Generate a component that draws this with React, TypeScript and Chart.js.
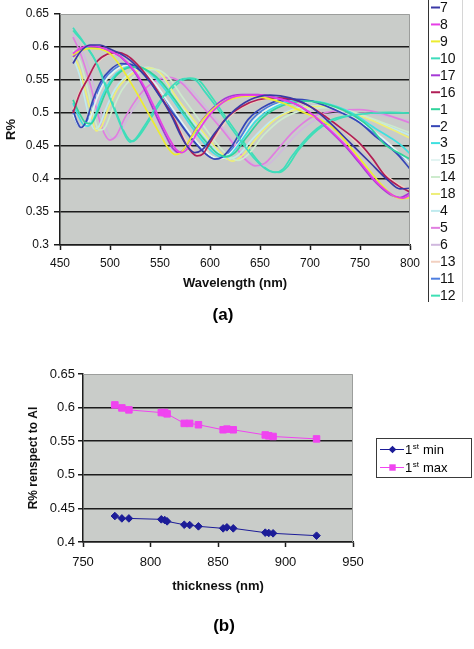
import { useEffect, useRef } from "react";
import { Chart, registerables } from "chart.js";

Chart.register(...registerables);
Chart.defaults.font.family = "'Liberation Sans', Arial, sans-serif";
Chart.defaults.color = "#000";

type P = [number, number];

// Reflectance spectra R(λ), [wavelength nm, R]
const s7: P[] = [[463,.575],[470,.592],[480,.603],[490,.603],[500,.597],[510,.590],[520,.580],[530,.565],[540,.547],[547,.532],[553,.518],[562,.494],[570,.468],[578,.448],[585,.440],[592,.444],[605,.470],[620,.498],[640,.520],[660,.527],[680,.523],[700,.510],[720,.485],[740,.455],[760,.425],[778,.398],[790,.385],[800,.386]];
const s8: P[] = [[463,.590],[470,.598],[480,.602],[490,.600],[500,.594],[512,.584],[525,.563],[535,.538],[543,.513],[551,.486],[559,.462],[566,.445],[572,.440],[578,.447],[588,.472],[600,.498],[618,.521],[636,.527],[652,.527],[668,.522],[688,.512],[703,.497],[718,.477],[738,.447],[752,.422],[765,.398],[775,.384],[785,.374],[793,.371],[800,.376]];
const s9: P[] = [[463,.588],[470,.594],[480,.598],[490,.597],[500,.590],[510,.572],[520,.548],[530,.522],[540,.495],[550,.468],[558,.447],[565,.437],[571,.440],[580,.460],[592,.488],[608,.512],[625,.523],[640,.526],[655,.523],[675,.514],[695,.500],[710,.490],[725,.475],[740,.449],[755,.421],[770,.394],[782,.376],[792,.370],[800,.372]];
const s10: P[] = [[463,.629],[470,.615],[478,.597],[485,.580],[492,.555],[498,.530],[505,.503],[511,.480],[516,.463],[520,.456],[525,.460],[535,.482],[550,.518],[565,.545],[575,.552],[585,.550],[595,.532],[607,.508],[620,.480],[632,.455],[645,.430],[655,.416],[665,.410],[673,.415],[682,.435],[702,.470],[722,.490],[749,.498],[775,.500],[800,.500]];
const s17: P[] = [[463,.585],[470,.595],[478,.601],[488,.600],[498,.595],[510,.586],[523,.565],[533,.540],[540,.517],[548,.490],[556,.465],[563,.446],[569,.440],[575,.447],[585,.474],[598,.500],[615,.522],[632,.528],[648,.528],[665,.523],[685,.514],[700,.500],[715,.480],[735,.450],[749,.425],[762,.401],[772,.386],[782,.375],[790,.372],[800,.379]];
const s16: P[] = [[463,.500],[470,.530],[477,.550],[487,.578],[497,.589],[507,.592],[517,.587],[527,.574],[537,.556],[547,.535],[556,.512],[565,.488],[575,.455],[582,.440],[587,.435],[593,.438],[600,.455],[615,.490],[632,.510],[648,.520],[665,.523],[682,.521],[700,.510],[715,.495],[732,.476],[749,.455],[762,.432],[775,.405],[788,.390],[800,.380]];
const s1: P[] = [[463,.520],[470,.498],[476,.485],[481,.484],[488,.503],[496,.532],[506,.556],[517,.568],[528,.570],[540,.562],[552,.546],[564,.522],[578,.492],[594,.460],[608,.438],[616,.434],[625,.440],[636,.462],[652,.492],[672,.511],[695,.518],[720,.512],[745,.495],[762,.475],[775,.452],[788,.440],[800,.430]];
const s2: P[] = [[463,.505],[467,.487],[471,.478],[476,.487],[483,.520],[491,.548],[500,.565],[511,.575],[520,.574],[531,.563],[540,.548],[550,.525],[565,.495],[582,.460],[598,.435],[605,.430],[612,.433],[622,.450],[638,.490],[658,.513],[680,.521],[702,.518],[732,.500],[750,.485],[765,.465],[778,.450],[789,.435],[800,.415]];
const s3: P[] = [[463,.515],[468,.497],[473,.483],[478,.480],[484,.492],[492,.525],[502,.552],[513,.567],[524,.572],[535,.566],[546,.552],[558,.530],[572,.500],[588,.466],[603,.440],[612,.433],[620,.436],[630,.455],[646,.488],[666,.510],[690,.519],[715,.515],[742,.500],[765,.477],[780,.463],[792,.450],[800,.438]];
const s15: P[] = [[463,.498],[468,.482],[474,.479],[480,.492],[487,.523],[495,.548],[505,.564],[516,.572],[526,.570],[537,.558],[547,.541],[557,.519],[572,.486],[588,.454],[602,.434],[610,.431],[618,.436],[629,.455],[644,.489],[664,.511],[688,.518],[711,.514],[738,.497],[758,.479],[773,.461],[788,.441],[800,.424]];
const s14: P[] = [[463,.595],[470,.578],[477,.540],[484,.495],[489,.474],[494,.476],[502,.503],[512,.535],[522,.553],[534,.565],[546,.566],[558,.555],[572,.525],[590,.488],[606,.455],[618,.436],[628,.428],[638,.437],[654,.467],[672,.491],[692,.504],[718,.508],[742,.502],[768,.488],[788,.477],[800,.470]];
const s18: P[] = [[463,.590],[470,.565],[476,.530],[481,.500],[486,.473],[491,.478],[498,.505],[507,.535],[516,.552],[528,.565],[540,.568],[552,.558],[565,.527],[585,.487],[600,.458],[612,.438],[622,.427],[632,.435],[648,.465],[665,.490],[685,.505],[710,.510],[732,.505],[760,.490],[782,.475],[800,.462]];
const s4: P[] = [[463,.585],[470,.555],[475,.520],[479,.495],[484,.476],[489,.480],[496,.507],[505,.536],[514,.553],[526,.566],[538,.569],[550,.560],[562,.533],[580,.493],[596,.462],[608,.441],[618,.430],[628,.436],[644,.463],[662,.489],[682,.505],[706,.511],[728,.507],[755,.494],[778,.480],[800,.466]];
const s5: P[] = [[463,.615],[470,.592],[480,.545],[488,.497],[494,.470],[500,.459],[506,.465],[515,.493],[530,.528],[545,.548],[560,.554],[572,.545],[585,.523],[598,.500],[612,.475],[625,.450],[635,.430],[645,.420],[655,.424],[665,.440],[682,.470],[702,.494],[725,.503],[749,.505],[775,.498],[800,.485]];
const s6: P[] = [[463,.620],[470,.603],[480,.562],[489,.512],[496,.477],[502,.462],[508,.464],[517,.490],[532,.525],[548,.546],[563,.552],[576,.543],[589,.522],[602,.498],[616,.472],[629,.446],[639,.428],[649,.419],[659,.423],[669,.438],[686,.467],[706,.490],[730,.500],[755,.500],[780,.494],[800,.488]];
const s13: P[] = [[463,.505],[470,.533],[480,.560],[490,.580],[500,.589],[510,.590],[520,.583],[530,.570],[540,.552],[550,.530],[560,.503],[570,.474],[580,.450],[588,.437],[595,.438],[605,.462],[620,.495],[638,.513],[655,.521],[672,.522],[690,.517],[708,.503],[725,.485],[742,.462],[758,.438],[772,.412],[786,.394],[800,.383]];
const s11: P[] = [[463,.500],[467,.484],[472,.479],[478,.490],[485,.522],[493,.548],[503,.565],[514,.573],[524,.571],[535,.559],[545,.542],[555,.520],[570,.487],[586,.455],[600,.434],[608,.431],[616,.436],[627,.455],[642,.490],[662,.512],[685,.519],[708,.515],[735,.498],[755,.480],[770,.462],[785,.442],[800,.425]];
const s12: P[] = [[463,.625],[470,.613],[478,.598],[486,.578],[494,.550],[501,.522],[508,.494],[514,.472],[519,.460],[523,.457],[529,.465],[540,.490],[555,.525],[570,.547],[580,.553],[590,.548],[600,.528],[612,.502],[625,.474],[638,.447],[650,.424],[660,.412],[669,.410],[677,.418],[688,.443],[708,.475],[730,.492],[755,.499],[780,.501],[800,.500]];

const sampleLabels = ["7", "8", "9", "10", "17", "16", "1", "2", "3", "15", "14", "18", "4", "5", "6", "13", "11", "12"];
const sampleSpectra = [s7, s8, s9, s10, s17, s16, s1, s2, s3, s15, s14, s18, s4, s5, s6, s13, s11, s12];
const sampleColors = ["#3a38a6", "#e63ee6", "#ecec30", "#3edcbc", "#a63ad6", "#b01e56", "#30d49c", "#3646b6", "#3ee0e0", "#e2f4f2", "#cdebcd", "#eeee78", "#bfeaee", "#e07ee0", "#d0b8de", "#f2d0c0", "#4e7ee0", "#3ee0b4"];

const wlTicks = [450, 800, 50];
const rTicksA = [0.3, 0.65, 0.05];

// First extrema of R versus film thickness
const thickness = [773.6, 778.8, 784, 808, 810.5, 812.3, 825, 829, 835.5, 853.8, 856.6, 861.3, 885, 887.6, 890.8, 923];
const firstMin = [0.4386, 0.4351, 0.4351, 0.4337, 0.4327, 0.4307, 0.4257, 0.4252, 0.4233, 0.4203, 0.4218, 0.4203, 0.4139, 0.4134, 0.4129, 0.4094];
const firstMax = [0.604, 0.5995, 0.5966, 0.5926, 0.5926, 0.5907, 0.5765, 0.5765, 0.5745, 0.567, 0.568, 0.567, 0.5593, 0.558, 0.557, 0.5534];
const thkTicks = [750, 950, 50];
const rTicksB = [0.4, 0.65, 0.05];

const PLOT_BG = "#c9ccc9";
const GRID = "#1c1c1c";

const fmtR = (v: any) => String(Number(Number(v).toFixed(2)));

const plotFrame = {
  id: "plotFrame",
  beforeDraw(chart: any) {
    const { ctx, chartArea: a } = chart;
    ctx.save();
    ctx.fillStyle = PLOT_BG;
    ctx.fillRect(a.left, a.top, a.right - a.left, a.bottom - a.top);
    ctx.restore();
  },
  afterDraw(chart: any) {
    const { ctx, chartArea: a } = chart;
    ctx.save();
    ctx.strokeStyle = "#9c9e9c";
    ctx.lineWidth = 1;
    ctx.beginPath();
    ctx.moveTo(a.left, a.top + 0.5);
    ctx.lineTo(a.right - 0.5, a.top + 0.5);
    ctx.lineTo(a.right - 0.5, a.bottom);
    ctx.stroke();
    ctx.restore();
  },
};

function caption(text: string, x: number, y: number) {
  return {
    id: "caption",
    afterDraw(chart: any) {
      const ctx = chart.ctx;
      ctx.save();
      ctx.font = "bold 17px 'Liberation Sans', Arial, sans-serif";
      ctx.fillStyle = "#000";
      ctx.textAlign = "center";
      ctx.textBaseline = "middle";
      ctx.fillText(text, x, y);
      ctx.restore();
    },
  };
}

const spectraLegend = {
  id: "spectraLegend",
  afterDraw(chart: any) {
    const ctx = chart.ctx;
    ctx.save();
    ctx.lineWidth = 1;
    ctx.strokeStyle = "#333";
    ctx.beginPath();
    ctx.moveTo(428.5, 0);
    ctx.lineTo(428.5, 302);
    ctx.stroke();
    ctx.strokeStyle = "#d6d6d6";
    ctx.beginPath();
    ctx.moveTo(462.5, 0);
    ctx.lineTo(462.5, 302);
    ctx.stroke();
    ctx.font = "14px 'Liberation Sans', Arial, sans-serif";
    ctx.textBaseline = "middle";
    chart.data.datasets.forEach((ds: any, i: number) => {
      const y = 7.5 + i * 16.95;
      ctx.strokeStyle = ds.borderColor;
      ctx.lineWidth = 2;
      ctx.beginPath();
      ctx.moveTo(431, y);
      ctx.lineTo(440, y);
      ctx.stroke();
      ctx.fillStyle = "#111";
      ctx.fillText(ds.label, 440, y + 0.5);
    });
    ctx.restore();
  },
};

function drawMarker(ctx: any, style: string, x: number, y: number, color: string) {
  ctx.fillStyle = color;
  ctx.beginPath();
  if (style === "rect") {
    ctx.rect(x - 3.2, y - 3.2, 6.4, 6.4);
  } else {
    ctx.moveTo(x, y - 3.8);
    ctx.lineTo(x + 3.8, y);
    ctx.lineTo(x, y + 3.8);
    ctx.lineTo(x - 3.8, y);
    ctx.closePath();
  }
  ctx.fill();
}

const extremaLegend = {
  id: "extremaLegend",
  afterDraw(chart: any) {
    const ctx = chart.ctx;
    ctx.save();
    ctx.fillStyle = "#fff";
    ctx.fillRect(376, 98, 96, 40);
    ctx.strokeStyle = "#3a3a3a";
    ctx.lineWidth = 1;
    ctx.strokeRect(376.5, 98.5, 95, 39);
    chart.data.datasets.forEach((ds: any, i: number) => {
      const y = 109.5 + i * 18;
      ctx.strokeStyle = ds.borderColor;
      ctx.lineWidth = 1;
      ctx.beginPath();
      ctx.moveTo(380, y);
      ctx.lineTo(404, y);
      ctx.stroke();
      drawMarker(ctx, ds.pointStyle, 392.5, y, ds.borderColor);
      const [num, sup, rest] = ds.legendParts;
      ctx.fillStyle = "#000";
      ctx.textBaseline = "middle";
      ctx.font = "13px 'Liberation Sans', Arial, sans-serif";
      ctx.fillText(num, 405, y + 1);
      let x = 405 + ctx.measureText(num).width;
      ctx.font = "8px 'Liberation Sans', Arial, sans-serif";
      ctx.fillText(sup, x + 0.5, y - 3);
      x += ctx.measureText(sup).width + 4.5;
      ctx.font = "13px 'Liberation Sans', Arial, sans-serif";
      ctx.fillText(rest, x, y + 1);
    });
    ctx.restore();
  },
};

function yGridColor(top: number) {
  return (c: any) => (c.tick && Math.abs(c.tick.value - top) < 1e-6 ? "rgba(0,0,0,0)" : GRID);
}

export default function App() {
  const refA = useRef<HTMLCanvasElement>(null);
  const refB = useRef<HTMLCanvasElement>(null);

  useEffect(() => {
    const chartA = new Chart(refA.current as HTMLCanvasElement, {
      type: "line",
      data: {
        datasets: sampleSpectra.map((pts, i) => ({
          label: sampleLabels[i],
          data: pts.map(([x, y]) => ({ x, y })),
          borderColor: sampleColors[i],
          backgroundColor: sampleColors[i],
          borderWidth: 1.7,
          pointRadius: 0,
          cubicInterpolationMode: "monotone" as const,
          fill: false,
        })),
      },
      options: {
        animation: false,
        responsive: false,
        maintainAspectRatio: false,
        events: [],
        layout: { padding: { left: 0, top: 14, right: 64, bottom: 39 } },
        plugins: { legend: { display: false }, tooltip: { enabled: false } },
        scales: {
          x: {
            type: "linear",
            min: wlTicks[0],
            max: wlTicks[1],
            ticks: { stepSize: wlTicks[2], font: { size: 12 }, color: "#111", padding: 6 },
            grid: { drawOnChartArea: false, tickLength: 5, tickColor: GRID, tickWidth: 1.5 },
            border: { color: GRID, width: 1.5 },
            title: { display: true, text: "Wavelength (nm)", font: { size: 13, weight: "bold" }, color: "#111", padding: 0 },
            afterFit: (s: any) => { s.height = 46; },
          },
          y: {
            type: "linear",
            min: rTicksA[0],
            max: rTicksA[1],
            ticks: { stepSize: rTicksA[2], font: { size: 12 }, color: "#111", padding: 5, callback: fmtR },
            grid: { color: yGridColor(rTicksA[1]), lineWidth: 1.5, tickLength: 6, tickColor: GRID, tickWidth: 1.5 },
            border: { color: GRID, width: 1.5 },
            title: { display: true, text: "R%", font: { size: 13, weight: "bold" }, color: "#111", padding: { top: 4, bottom: 0 } },
            afterFit: (s: any) => { s.width = 60; },
          },
        },
      } as any,
      plugins: [plotFrame, spectraLegend, caption("(a)", 223, 315)],
    });

    const chartB = new Chart(refB.current as HTMLCanvasElement, {
      type: "line",
      data: {
        datasets: [
          {
            label: "1st min",
            legendParts: ["1", "st", "min"],
            data: thickness.map((x, i) => ({ x, y: firstMin[i] })),
            borderColor: "#1c1c98",
            backgroundColor: "#1c1c98",
            pointBackgroundColor: "#1c1c98",
            pointBorderColor: "#1c1c98",
            pointStyle: "rectRot",
            pointRadius: 3.8,
            borderWidth: 1,
            tension: 0,
          },
          {
            label: "1st max",
            legendParts: ["1", "st", "max"],
            data: thickness.map((x, i) => ({ x, y: firstMax[i] })),
            borderColor: "#f044f0",
            backgroundColor: "#f044f0",
            pointBackgroundColor: "#f044f0",
            pointBorderColor: "#f044f0",
            pointStyle: "rect",
            pointRadius: 4.6,
            borderWidth: 1,
            tension: 0,
          },
        ] as any,
      },
      options: {
        animation: false,
        responsive: false,
        maintainAspectRatio: false,
        events: [],
        layout: { padding: { left: 0, top: 34, right: 121, bottom: 55 } },
        plugins: { legend: { display: false }, tooltip: { enabled: false } },
        scales: {
          x: {
            type: "linear",
            min: thkTicks[0],
            max: thkTicks[1],
            ticks: { stepSize: thkTicks[2], font: { size: 13 }, color: "#111", padding: 8 },
            grid: { drawOnChartArea: false, tickLength: 5, tickColor: GRID, tickWidth: 1.5 },
            border: { color: GRID, width: 1.5 },
            title: { display: true, text: "thickness (nm)", font: { size: 13, weight: "bold" }, color: "#111", padding: 0 },
            afterFit: (s: any) => { s.height = 52; },
          },
          y: {
            type: "linear",
            min: rTicksB[0],
            max: rTicksB[1],
            ticks: { stepSize: rTicksB[2], font: { size: 13 }, color: "#111", padding: 3, callback: fmtR },
            grid: { color: yGridColor(rTicksB[1]), lineWidth: 1.5, tickLength: 5, tickColor: GRID, tickWidth: 1.5 },
            border: { color: GRID, width: 1.5 },
            title: { display: true, text: "R% renspect to Al", font: { size: 12, weight: "bold" }, color: "#111", padding: { top: 26, bottom: 0 } },
            afterFit: (s: any) => { s.width = 83; },
          },
        },
      } as any,
      plugins: [plotFrame, extremaLegend, caption("(b)", 224, 286)],
    });

    return () => {
      chartA.destroy();
      chartB.destroy();
    };
  }, []);

  return (
    <div style={{ position: "absolute", left: 0, top: 0, width: 474, height: 649, background: "#fff" }}>
      <canvas ref={refA} width={474} height={330} style={{ position: "absolute", left: 0, top: 0, width: 474, height: 330 }} />
      <canvas ref={refB} width={474} height={309} style={{ position: "absolute", left: 0, top: 340, width: 474, height: 309 }} />
    </div>
  );
}
